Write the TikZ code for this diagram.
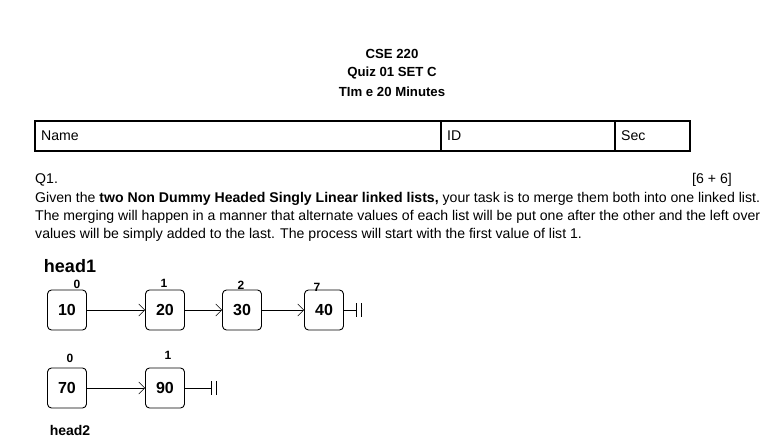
\documentclass[tikz,border=0pt]{standalone}
\usepackage{fontspec}
\usetikzlibrary{arrows.meta}
\setmainfont{Liberation Sans}
\begin{document}
\begin{tikzpicture}[x=1pt,y=-1pt,
  every node/.style={inner sep=0pt},
  txt/.style={anchor=west,font=\fontsize{14.1}{16}\selectfont},
  ttl/.style={font=\bfseries\fontsize{13.2}{15}\selectfont},
  cell/.style={draw,line width=0.9pt,rounded corners=4pt,minimum width=39pt,minimum height=40pt,font=\bfseries\fontsize{16}{18}\selectfont},
  hw/.style={font=\bfseries\fontsize{12}{14}\selectfont},
  link/.style={draw,-{Straight Barb[length=6pt]},line width=0.5pt},
  nul/.style={line width=1pt}]
\useasboundingbox (0,0) rectangle (784,441);
\node[ttl] (t1) at (392,54) {CSE 220};
\node[ttl] (t2) at (392,73) {Quiz 01 SET C};
\node[ttl] (t3) at (392,92) {TIm e 20 Minutes};
\draw[line width=1.2pt] (35,121) rectangle (690,151);
\draw[line width=1.2pt] (441,121) -- (441,151) (615,121) -- (615,151);
\node[txt] (nm) at (41,136) {Name};
\node[txt] (id) at (447,136) {ID};
\node[txt] (sc) at (621,136) {Sec};
\node[txt] (q) at (35,180) {Q1.};
\node[anchor=east,font=\fontsize{14.1}{16}\selectfont] (mk) at (732,180) {[6 + 6]};
\node[txt] (l1) at (35,199) {Given the \textbf{two Non Dummy Headed Singly Linear linked lists,} your task is to merge them both into one linked list.};
\node[txt] (l2) at (35,217) {The merging will happen in a manner that alternate values of each list will be put one after the other and the left over};
\node[txt] (l3) at (35,235) {values will be simply added to the last. The process will start with the first value of list 1.};
\node[font=\bfseries\fontsize{18}{18}\selectfont] (h1) at (70,266) {head1};
\node[cell] (a) at (67,310) {10};
\node[cell] (b) at (165,310) {20};
\node[cell] (c) at (242,310) {30};
\node[cell] (d) at (324,310) {40};
\node[hw] at (77,284) {0};
\node[hw] at (164,283) {1};
\node[hw] at (241,285) {2};
\node[hw] at (317,287) {7};
\draw[link] (a) -- (b);
\draw[link] (b) -- (c);
\draw[link] (c) -- (d);
\coordinate (dn) at (356,310);
\draw[nul] (d.east) -- (dn) (dn)+(0,-7) -- +(0,7) (dn)+(5,-7) -- +(5,7);
\node[cell] (e) at (67,388) {70};
\node[cell] (f) at (165,388) {90};
\node[hw] at (70,358) {0};
\node[hw] at (168,355) {1};
\draw[link] (e) -- (f);
\coordinate (fn) at (211,388);
\draw[nul] (f.east) -- (fn) (fn)+(0,-7) -- +(0,7) (fn)+(5,-7) -- +(5,7);
\node[font=\bfseries\fontsize{14}{14}\selectfont,anchor=south] (h2) at (70,436) {head2};
\end{tikzpicture}
\end{document}
